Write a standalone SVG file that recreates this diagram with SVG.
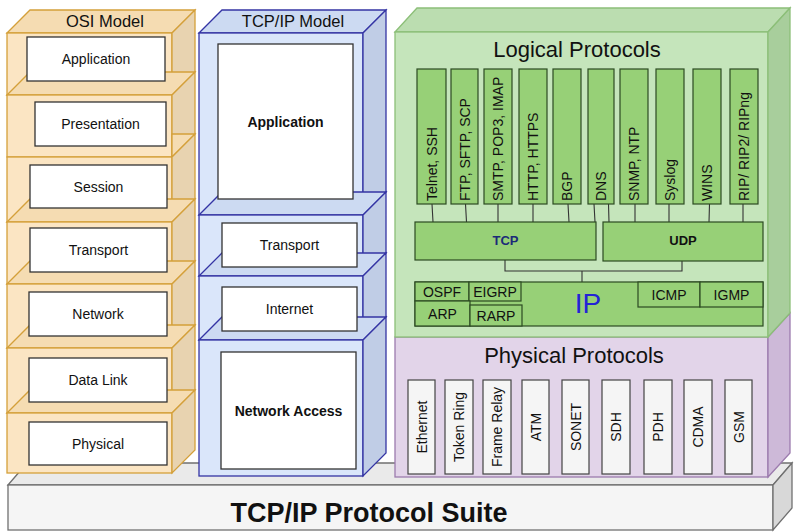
<svg xmlns="http://www.w3.org/2000/svg" width="800" height="532" viewBox="0 0 800 532">
<style>
text{font-family:"Liberation Sans",Arial,Helvetica,sans-serif;fill:#111}
.osf{fill:#FBE5C3;stroke:#D4A03A;stroke-width:1.3}
.ost{fill:#F5DCB2;stroke:#D4A03A;stroke-width:1.3}
.osr{fill:#E8D3B0;stroke:#D4A03A;stroke-width:1.3}
.tcf{fill:#DAE6FA;stroke:#3434A4;stroke-width:1.3}
.tct{fill:#CCDAF2;stroke:#3434A4;stroke-width:1.3}
.tcr{fill:#C0CDE6;stroke:#3434A4;stroke-width:1.3}
.gf{fill:#C5E5BB;stroke:#8CBF78;stroke-width:1.3}
.gt{fill:#BBDDB0;stroke:#8CBF78;stroke-width:1.3}
.gr{fill:#A8CE9C;stroke:#8CBF78;stroke-width:1.3}
.pf{fill:#E2D4E9;stroke:#9C7BAE;stroke-width:1.3}
.pr{fill:#CDB9D8;stroke:#9C7BAE;stroke-width:1.3}
.sf{fill:#F5F5F5;stroke:#707070;stroke-width:1.3}
.st{fill:#EAEAEA;stroke:#707070;stroke-width:1.3}
.sr{fill:#D8D8D8;stroke:#707070;stroke-width:1.3}
.wb{fill:#fff;stroke:#333;stroke-width:1.3}
.gb{fill:#97D077;stroke:#2C4A22;stroke-width:1.2}
.pb{fill:#F5F5F5;stroke:#444;stroke-width:1.2}
.lbl{font-size:14px;text-anchor:middle}
.bl{font-size:14px;font-weight:bold;text-anchor:middle}
.vt{font-size:14px}
.pv{font-size:14px;text-anchor:middle}
.cn{fill:none;stroke:#333;stroke-width:1.1}
</style>

<g id="suite">
<polygon class="st" points="8,485 27,463 792,463 773,485"/>
<rect class="sf" x="8" y="485" width="765" height="45"/>
<polygon class="sr" points="773,485 792,463 792,508 773,530"/>
<text x="369" y="522" font-size="27" font-weight="bold" text-anchor="middle">TCP/IP Protocol Suite</text>
</g>

<g id="osi-model">
<g id="osi-application">
<polygon class="ost" points="7,33 30,10 195,10 172,33"/>
<rect class="osf" x="7" y="33" width="165" height="62"/>
<polygon class="osr" points="172,33 195,10 195,72 172,95"/>
</g>
<g id="osi-presentation">
<polygon class="ost" points="7,95 30,72 195,72 172,95"/>
<rect class="osf" x="7" y="95" width="165" height="62"/>
<polygon class="osr" points="172,95 195,72 195,134 172,157"/>
</g>
<g id="osi-session">
<polygon class="ost" points="172,134 195,134 172,157"/>
<rect class="osf" x="7" y="157" width="165" height="65"/>
<polygon class="osr" points="172,157 195,134 195,199 172,222"/>
</g>
<g id="osi-transport">
<polygon class="ost" points="7,222 30,199 195,199 172,222"/>
<rect class="osf" x="7" y="222" width="165" height="62"/>
<polygon class="osr" points="172,222 195,199 195,261 172,284"/>
</g>
<g id="osi-network">
<polygon class="ost" points="7,284 30,261 195,261 172,284"/>
<rect class="osf" x="7" y="284" width="165" height="64"/>
<polygon class="osr" points="172,284 195,261 195,325 172,348"/>
</g>
<g id="osi-datalink">
<polygon class="ost" points="7,348 30,325 195,325 172,348"/>
<rect class="osf" x="7" y="348" width="165" height="65"/>
<polygon class="osr" points="172,348 195,325 195,390 172,413"/>
</g>
<g id="osi-physical">
<polygon class="ost" points="7,413 30,390 195,390 172,413"/>
<rect class="osf" x="7" y="413" width="165" height="60"/>
<polygon class="osr" points="172,413 195,390 195,450 172,473"/>
</g>
<text x="105" y="27" font-size="16.5" text-anchor="middle">OSI Model</text>
<rect class="wb" x="27" y="37" width="138" height="44"/><text class="lbl" x="96" y="64">Application</text>
<rect class="wb" x="35" y="102" width="131" height="44"/><text class="lbl" x="100.5" y="129">Presentation</text>
<rect class="wb" x="30" y="165" width="137" height="43"/><text class="lbl" x="98.5" y="191.5">Session</text>
<rect class="wb" x="30" y="228" width="137" height="44"/><text class="lbl" x="98.5" y="255">Transport</text>
<rect class="wb" x="29" y="292" width="138" height="44"/><text class="lbl" x="98" y="319">Network</text>
<rect class="wb" x="29" y="358" width="138" height="44"/><text class="lbl" x="98" y="385">Data Link</text>
<rect class="wb" x="29" y="422" width="138" height="43"/><text class="lbl" x="98" y="448.5">Physical</text>
</g>

<g id="tcpip-model">
<g id="tcp-application">
<polygon class="tct" points="199,33 222,10 386,10 363,33"/>
<rect class="tcf" x="199" y="33" width="164" height="182"/>
<polygon class="tcr" points="363,33 386,10 386,192 363,215"/>
</g>
<g id="tcp-transport">
<polygon class="tct" points="199,215 222,192 386,192 363,215"/>
<rect class="tcf" x="199" y="215" width="164" height="61"/>
<polygon class="tcr" points="363,215 386,192 386,253 363,276"/>
</g>
<g id="tcp-internet">
<polygon class="tct" points="199,276 222,253 386,253 363,276"/>
<rect class="tcf" x="199" y="276" width="164" height="64"/>
<polygon class="tcr" points="363,276 386,253 386,317 363,340"/>
</g>
<g id="tcp-netaccess">
<polygon class="tct" points="199,340 222,317 386,317 363,340"/>
<rect class="tcf" x="199" y="340" width="164" height="136"/>
<polygon class="tcr" points="363,340 386,317 386,453 363,476"/>
</g>
<text x="293" y="27" font-size="16.5" text-anchor="middle">TCP/IP Model</text>
<rect class="wb" x="218" y="44" width="135" height="155"/><text class="bl" x="285.5" y="126.5">Application</text>
<rect class="wb" x="222" y="223" width="135" height="44"/><text class="lbl" x="289.5" y="250">Transport</text>
<rect class="wb" x="222" y="287" width="135" height="44"/><text class="lbl" x="289.5" y="314">Internet</text>
<rect class="wb" x="221" y="352" width="135" height="117"/><text class="bl" x="288.5" y="415.5">Network Access</text>
</g>

<g id="physical-protocols">
<rect class="pf" x="395" y="337" width="373" height="140"/>
<polygon class="pr" points="768,337 790,313 790,453 768,477"/>
<text x="574" y="363" font-size="22" text-anchor="middle">Physical Protocols</text>
<g id="ethernet"><rect class="pb" x="408" y="380" width="27" height="94"/><text class="pv" transform="translate(426.5,427) rotate(-90)">Ethernet</text></g>
<g id="tokenring"><rect class="pb" x="445" y="380" width="28" height="94"/><text class="pv" transform="translate(464,427) rotate(-90)">Token Ring</text></g>
<g id="framerelay"><rect class="pb" x="483" y="380" width="28" height="94"/><text class="pv" transform="translate(502,427) rotate(-90)">Frame Relay</text></g>
<g id="atm"><rect class="pb" x="522" y="380" width="27" height="94"/><text class="pv" transform="translate(540.5,427) rotate(-90)">ATM</text></g>
<g id="sonet"><rect class="pb" x="562" y="380" width="27" height="94"/><text class="pv" transform="translate(580.5,427) rotate(-90)">SONET</text></g>
<g id="sdh"><rect class="pb" x="602" y="380" width="28" height="94"/><text class="pv" transform="translate(621,427) rotate(-90)">SDH</text></g>
<g id="pdh"><rect class="pb" x="644" y="380" width="28" height="94"/><text class="pv" transform="translate(663,427) rotate(-90)">PDH</text></g>
<g id="cdma"><rect class="pb" x="684" y="380" width="28" height="94"/><text class="pv" transform="translate(703,427) rotate(-90)">CDMA</text></g>
<g id="gsm"><rect class="pb" x="725" y="380" width="27" height="94"/><text class="pv" transform="translate(743.5,427) rotate(-90)">GSM</text></g>
</g>

<g id="logical-protocols">
<polygon class="gt" points="395,32 417,8 790,8 768,32"/>
<rect class="gf" x="395" y="32" width="373" height="305"/>
<polygon class="gr" points="768,32 790,8 790,313 768,337"/>
<text x="577" y="57" font-size="22" text-anchor="middle">Logical Protocols</text>
</g>

<g id="connectors">
<path class="cn" d="M432,204 L433,222 M465.5,204 L466.5,222 M498,204 V222 M533,204 V222 M568,204 L569,222 M594,204 L595,222 M608.5,204 L609,222 M635,204 V222 M669,204 V222 M709.5,204 L709,222 M743,204 V222"/>
<path class="cn" d="M505,260 V271 H682 V261 M582,271 V282"/>
</g>

<g id="app-protocols">
<g id="telnet"><rect class="gb" x="417" y="69" width="29" height="135"/><text class="vt" transform="translate(436.5,201) rotate(-90)">Telnet, SSH</text></g>
<g id="ftp"><rect class="gb" x="451" y="69" width="27" height="135"/><text class="vt" transform="translate(469.5,201) rotate(-90)">FTP, SFTP, SCP</text></g>
<g id="smtp"><rect class="gb" x="484" y="69" width="28" height="135"/><text class="vt" transform="translate(503,201) rotate(-90)">SMTP, POP3, IMAP</text></g>
<g id="http"><rect class="gb" x="519" y="69" width="28" height="135"/><text class="vt" transform="translate(538,201) rotate(-90)">HTTP, HTTPS</text></g>
<g id="bgp"><rect class="gb" x="553" y="69" width="28" height="135"/><text class="vt" transform="translate(572,201) rotate(-90)">BGP</text></g>
<g id="dns"><rect class="gb" x="588" y="69" width="26" height="135"/><text class="vt" transform="translate(606,201) rotate(-90)">DNS</text></g>
<g id="snmp"><rect class="gb" x="620" y="69" width="28" height="135"/><text class="vt" transform="translate(639,201) rotate(-90)">SNMP, NTP</text></g>
<g id="syslog"><rect class="gb" x="656" y="69" width="28" height="135"/><text class="vt" transform="translate(675,201) rotate(-90)">Syslog</text></g>
<g id="wins"><rect class="gb" x="693" y="69" width="28" height="135"/><text class="vt" transform="translate(712,201) rotate(-90)">WINS</text></g>
<g id="rip"><rect class="gb" x="730" y="69" width="28" height="135"/><text class="vt" transform="translate(749,201) rotate(-90)">RIP/ RIP2/ RIPng</text></g>
</g>

<g id="tcp"><rect class="gb" x="415" y="222" width="181" height="38"/><text x="505.5" y="245" font-size="13" font-weight="bold" text-anchor="middle" style="fill:#1B2A78">TCP</text></g>
<g id="udp"><rect class="gb" x="603" y="222" width="160" height="39"/><text x="683" y="245" font-size="13" font-weight="bold" text-anchor="middle">UDP</text></g>

<g id="ip">
<rect class="gb" x="415" y="282" width="348" height="44"/>
<text x="588" y="313" font-size="28" text-anchor="middle" style="fill:#2323D6">IP</text>
<g id="ospf"><rect class="gb" x="415" y="282" width="54" height="19"/><text class="lbl" x="442" y="296.5">OSPF</text></g>
<g id="eigrp"><rect class="gb" x="469" y="282" width="52" height="19"/><text class="lbl" x="495" y="296.5">EIGRP</text></g>
<g id="arp"><rect class="gb" x="415" y="301" width="55" height="25"/><text class="lbl" x="442.5" y="319">ARP</text></g>
<g id="rarp"><rect class="gb" x="470" y="305" width="52" height="21"/><text class="lbl" x="496" y="320.5">RARP</text></g>
<g id="icmp"><rect class="gb" x="638" y="282" width="62" height="25"/><text class="lbl" x="669" y="299.5">ICMP</text></g>
<g id="igmp"><rect class="gb" x="700" y="282" width="63" height="25"/><text class="lbl" x="731.5" y="299.5">IGMP</text></g>
</g>
</svg>
